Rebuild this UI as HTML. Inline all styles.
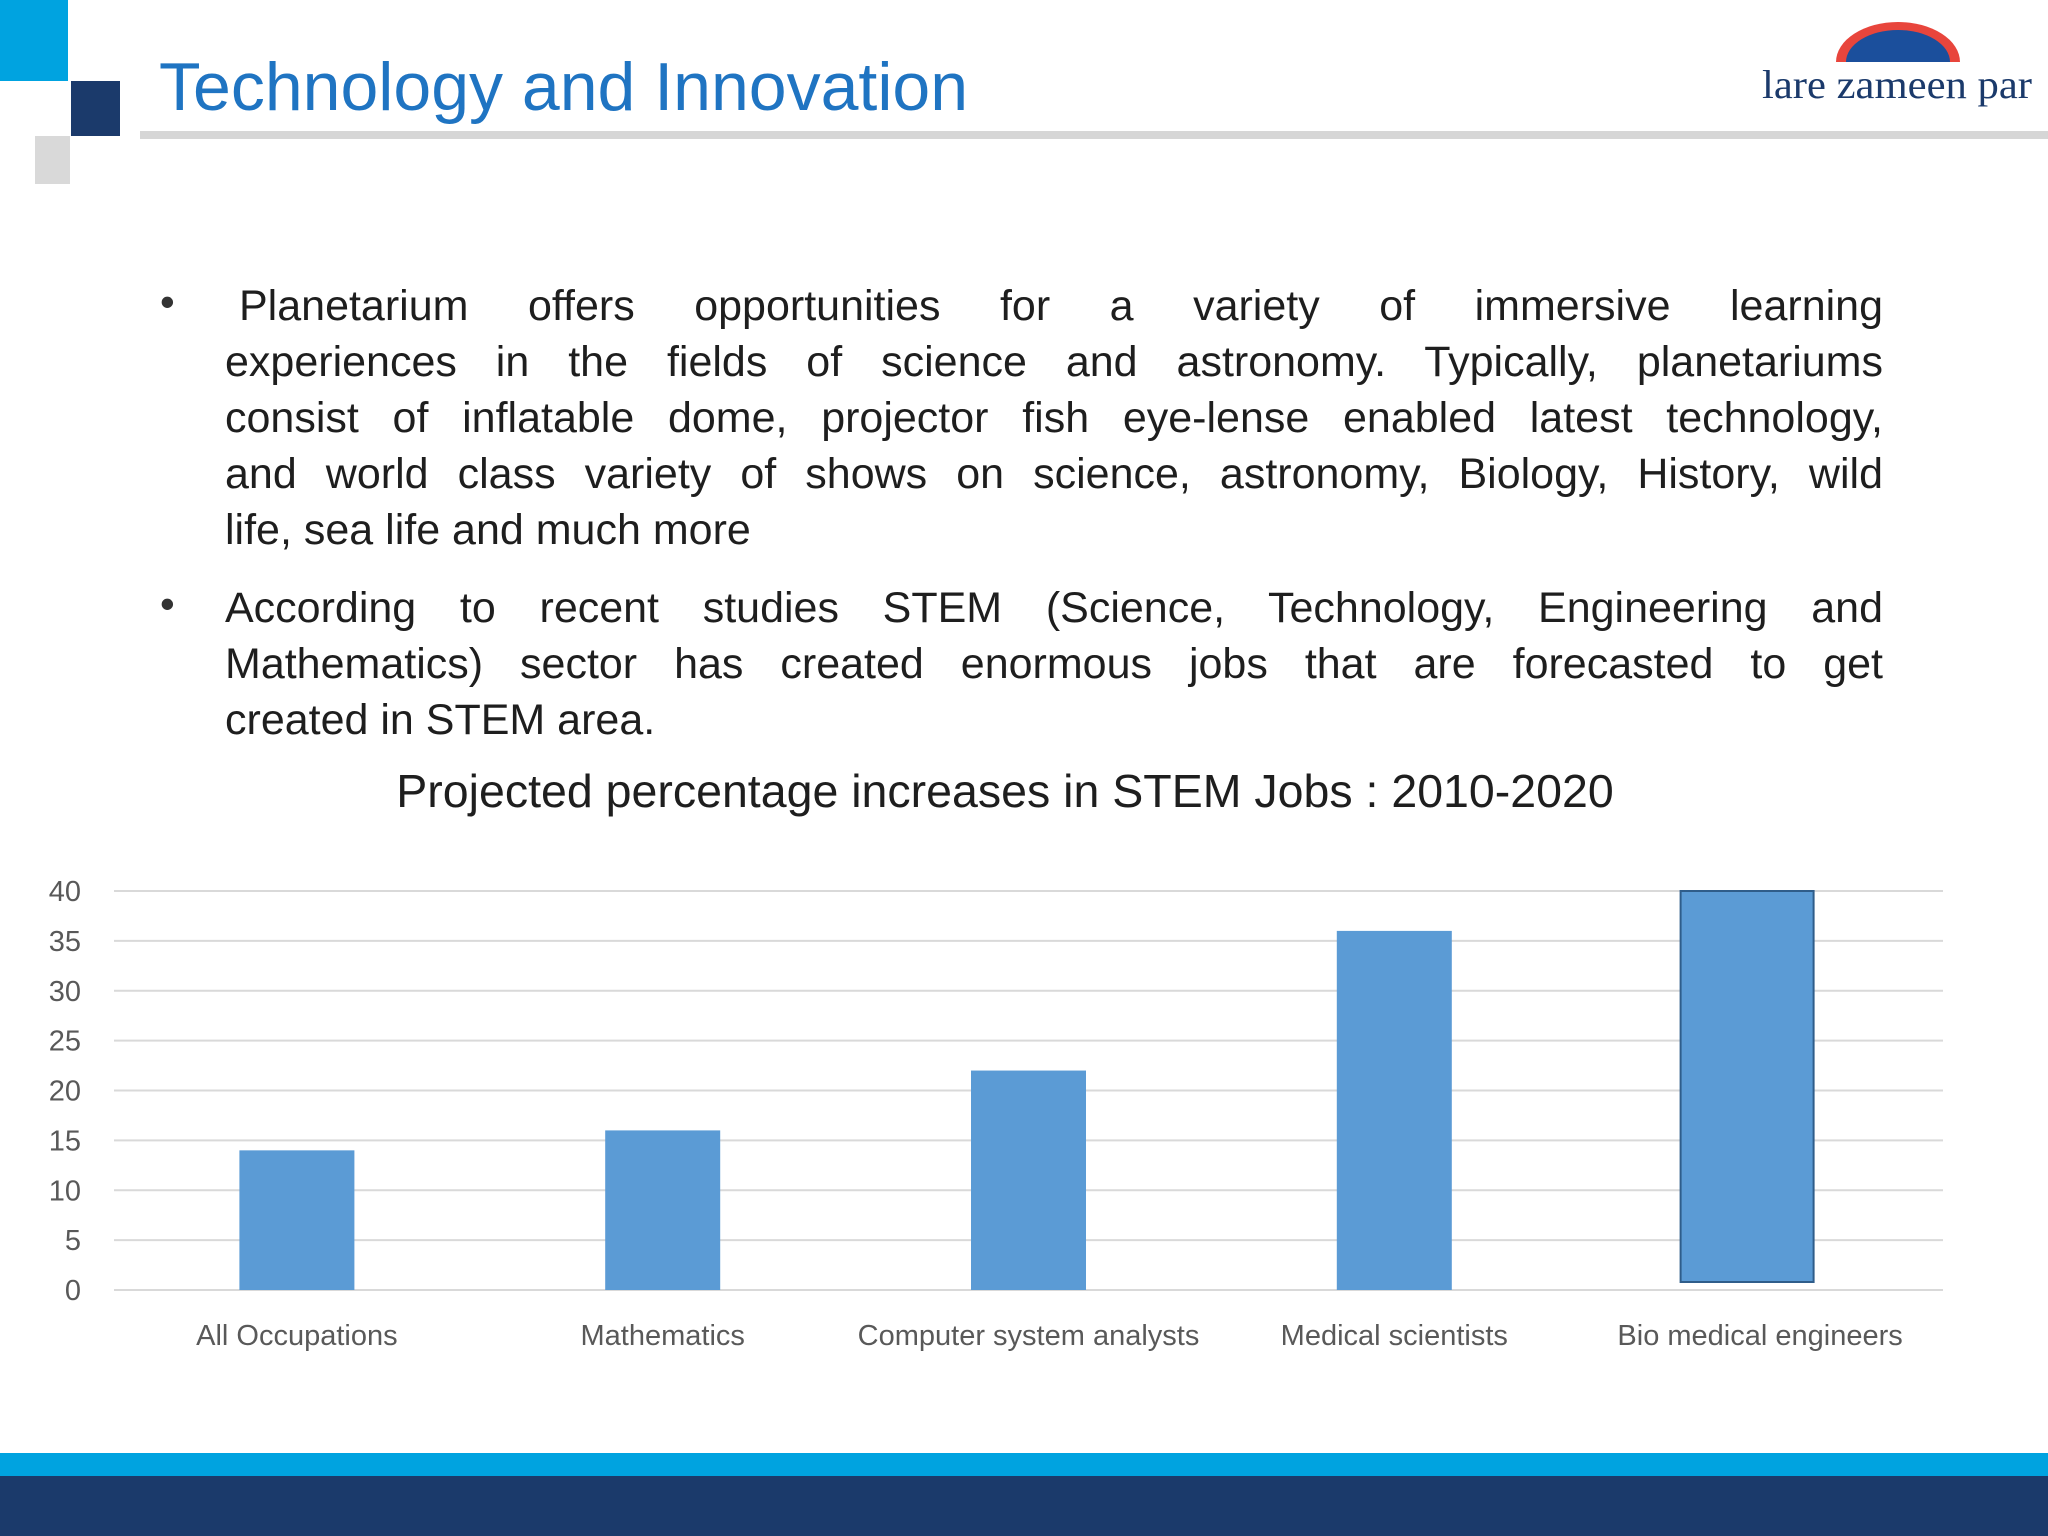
<!DOCTYPE html>
<html><head><meta charset="utf-8"><style>
html,body{margin:0;padding:0}
body{width:2048px;height:1536px;position:relative;overflow:hidden;background:#fff;font-family:"Liberation Sans",sans-serif}
.abs{position:absolute}
.bul{position:absolute;left:225px;width:1658px;font-size:43px;line-height:56px;color:#1e1e1e}
.ln{display:block;text-align:justify;text-align-last:justify;white-space:nowrap;height:56px}
.ln.last{text-align-last:left}
.dot{position:absolute;left:160px;font-size:42px;color:#333}
</style></head><body>
<div class="abs" style="left:0;top:0;width:68px;height:81px;background:#00a3e0"></div>
<div class="abs" style="left:71px;top:81px;width:49px;height:55px;background:#1b3a6b"></div>
<div class="abs" style="left:35px;top:136px;width:35px;height:48px;background:#d9d9d9"></div>
<div class="abs" style="left:159px;top:48px;font-size:68px;color:#1f74c2;white-space:nowrap">Technology and Innovation</div>
<div class="abs" style="left:140px;top:131px;width:1908px;height:8px;background:#d6d6d6"></div>
<div class="abs" style="left:1756px;top:12px;width:282px;height:112px">
<svg width="282" height="112"><path d="M80 50 A62 40 0 0 1 204 50 Z" fill="#e8453c"/><path d="M90 50 A52 32 0 0 1 194 50 Z" fill="#1b4f9c"/>
<text x="141" y="86" text-anchor="middle" font-family="Liberation Serif,serif" font-size="40" textLength="270" lengthAdjust="spacingAndGlyphs" fill="#1b3a6b">lare zameen par</text></svg></div>
<div class="dot" style="top:278px">•</div>
<div class="bul" style="top:278px">
<span class="ln" style="padding-left:14px">Planetarium offers opportunities for a variety of immersive learning</span>
<span class="ln">experiences in the fields of science and astronomy. Typically, planetariums</span>
<span class="ln">consist of inflatable dome, projector fish eye-lense enabled latest technology,</span>
<span class="ln">and world class variety of shows on science, astronomy, Biology, History, wild</span>
<span class="ln last">life, sea life and much more</span></div>
<div class="dot" style="top:580px">•</div>
<div class="bul" style="top:580px">
<span class="ln">According to recent studies STEM (Science, Technology, Engineering and</span>
<span class="ln">Mathematics) sector has created enormous jobs that are forecasted to get</span>
<span class="ln last">created in STEM area.</span></div>
<div class="abs" style="left:0;width:2010px;top:764px;text-align:center;font-size:46.5px;color:#1e1e1e">Projected percentage increases in STEM Jobs : 2010-2020</div>
<svg id="chart" class="abs" style="left:0;top:0" width="2048" height="1536"></svg>
<div class="abs" style="left:0;top:1453px;width:2048px;height:23px;background:#00a3e0"></div>
<div class="abs" style="left:0;top:1476px;width:2048px;height:60px;background:#1b3a6b"></div>
<script>
const categories=["All Occupations","Mathematics","Computer system analysts","Medical scientists","Bio medical engineers"];
const values=[14,16,22,36,40];
const ticks=[0,5,10,15,20,25,30,35,40];
const svg=document.getElementById('chart');const NS='http://www.w3.org/2000/svg';
const x0=114,x1=1943,y0=1290,y1=891,ymax=40;
const y=v=>y0-(v/ymax)*(y0-y1);
const band=(x1-x0)/categories.length;
const xc=i=>x0+band*(i+0.5);
function mk(t,a){const e=document.createElementNS(NS,t);for(const k in a)e.setAttribute(k,a[k]);svg.appendChild(e);return e;}
ticks.forEach(t=>{
 const l=mk('line',{x1:x0,x2:x1,y1:y(t),y2:y(t),stroke:'#d9d9d9','stroke-width':2});
 
 
 const tx=mk('text',{x:81,y:y(t)+10,'text-anchor':'end','font-size':29,fill:'#595959','font-family':'Liberation Sans,sans-serif'});
 tx.textContent=t;
 
 
});
categories.forEach((c,i)=>{
 const last=i===categories.length-1;
 const w=last?133:115;
 const cx=last?xc(i)-13:xc(i);
 const r=mk('rect',{x:cx-w/2,y:y(values[i]),width:w,height:y0-y(values[i])-(last?8:0),fill:'#5b9bd5'});
 if(last){r.setAttribute('stroke','#2f5d8a');r.setAttribute('stroke-width',2);}
 
 
 const tx=mk('text',{x:xc(i),y:1345,'text-anchor':'middle','font-size':29,fill:'#595959','font-family':'Liberation Sans,sans-serif'});
 tx.textContent=c;
 
 
});
</script>
</body></html>
